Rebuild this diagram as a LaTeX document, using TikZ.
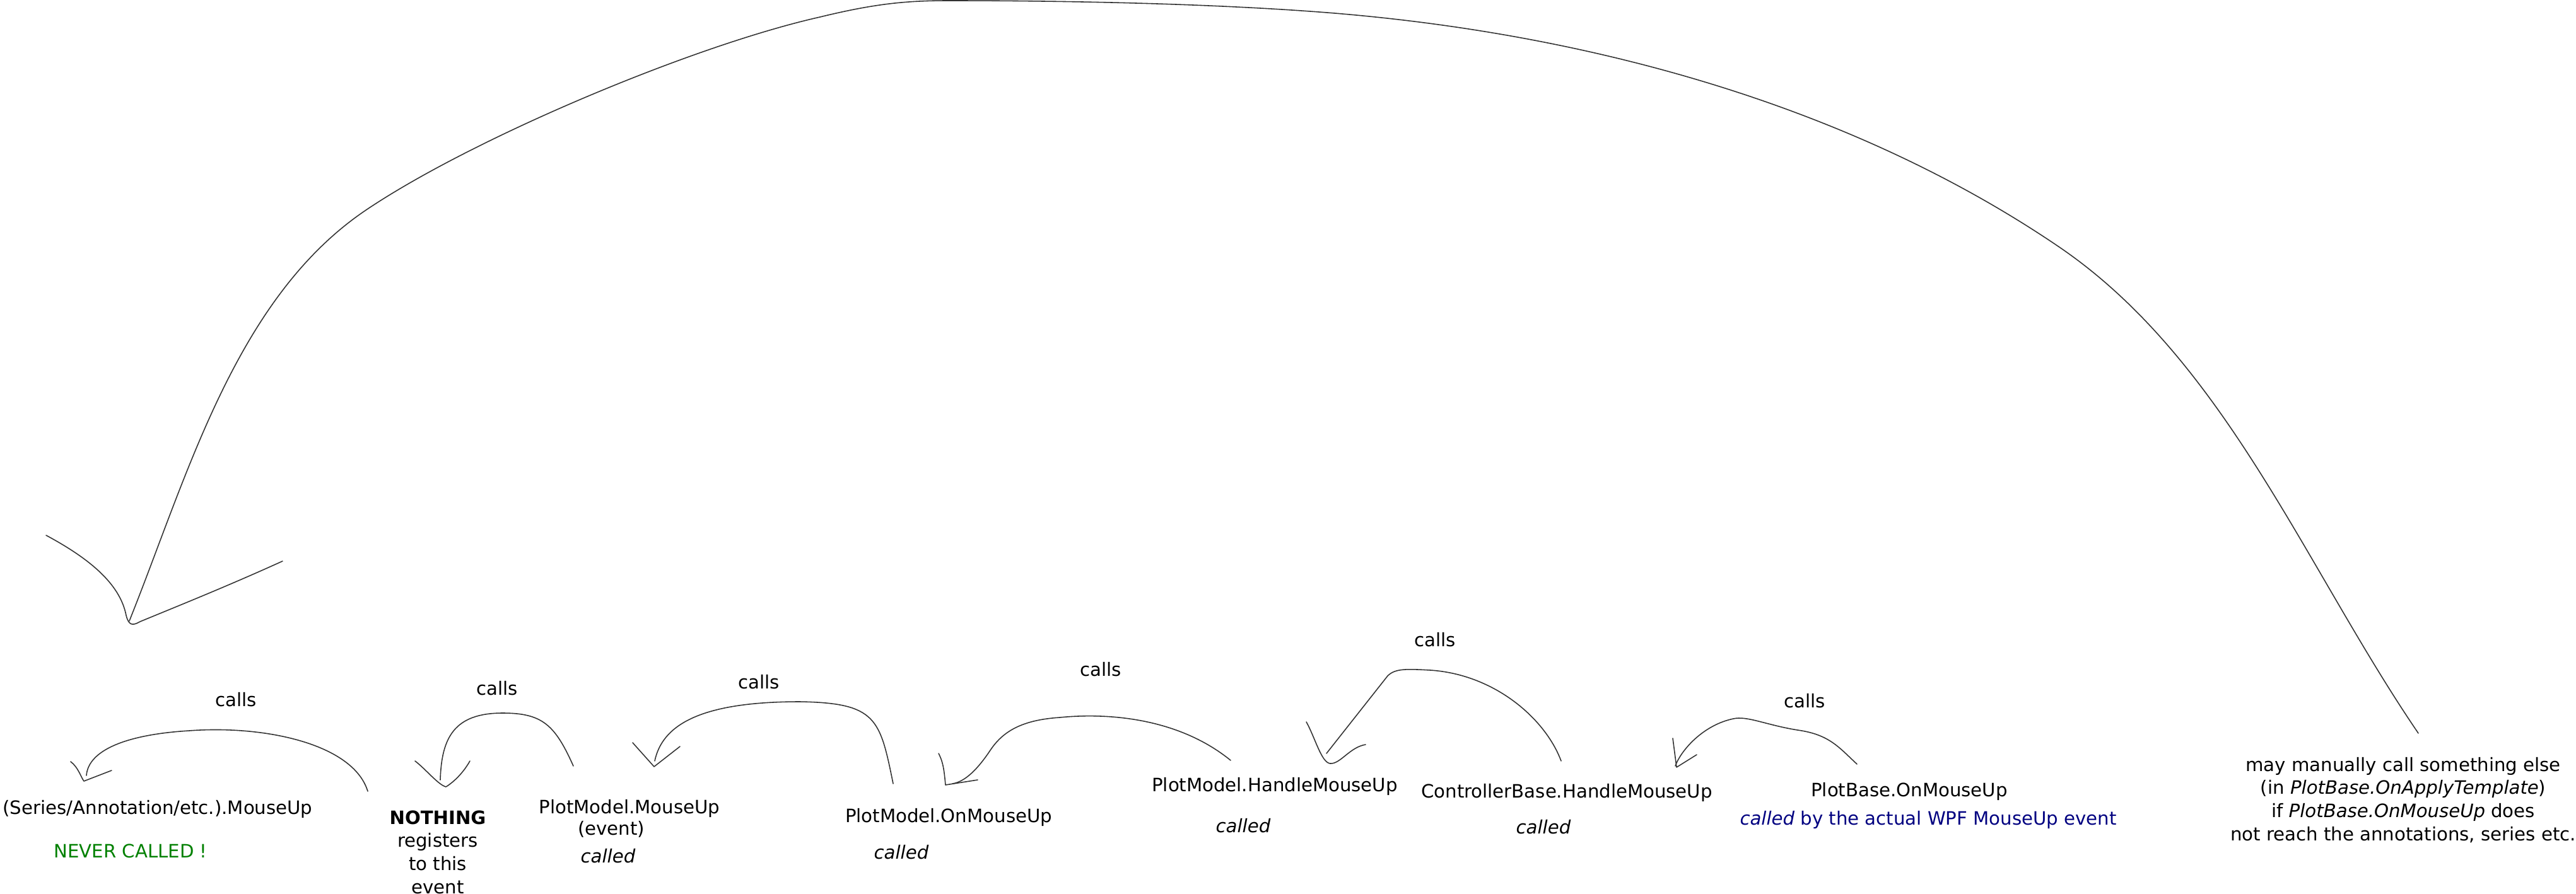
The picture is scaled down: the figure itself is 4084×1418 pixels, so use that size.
\documentclass[tikz,border=0pt]{standalone}
\usepackage{fontspec}
\setmainfont{DejaVu Sans}
\usepackage{xcolor}
\definecolor{nevergreen}{RGB}{0,128,0}
\definecolor{wpfblue}{RGB}{0,0,128}

\begin{document}
\begin{tikzpicture}[x=0.01cm, y=-0.01cm,
    every node/.style={font=\fontsize{8.3}{10.4}\selectfont, inner sep=0pt, anchor=base},
    stroke/.style={draw=black!80, line width=0.45pt, line cap=round, line join=round}]
        \useasboundingbox (0,0) rectangle (4084,1418);

        % Methods (left to right), multi-line nodes sit on their last line
        \node (series) at (250,1291) {(Series/Annotation/etc.).MouseUp};
        \node[text=nevergreen] (never) at (207,1360) {NEVER CALLED !};
        \node[align=center] (nothing) at (694,1417) {\textbf{NOTHING}\\registers\\to this\\event};
        \node (pmmouse) at (998,1290) {PlotModel.MouseUp};
        \node (pmevent) at (969,1324) {(event)};
        \node (pmcalled) at (964,1368) {\textit{called}};
        \node (onmouse) at (1504,1304) {PlotModel.OnMouseUp};
        \node (omcalled) at (1429,1362) {\textit{called}};
        \node (handle) at (2021,1255) {PlotModel.HandleMouseUp};
        \node (hcalled) at (1971,1320) {\textit{called}};
        \node (ctrl) at (2484,1265) {ControllerBase.HandleMouseUp};
        \node (ccalled) at (2447,1322) {\textit{called}};
        \node (plotbase) at (3027,1263) {PlotBase.OnMouseUp};
        \node[text=wpfblue] (wpf) at (3057,1308) {\textit{called} by the actual WPF MouseUp event};
        \node[align=center] (manual) at (3810,1333) {may manually call something else\\(in \textit{PlotBase.OnApplyTemplate})\\if \textit{PlotBase.OnMouseUp} does\\not reach the annotations, series etc.};

        % "calls" labels
        \node (calls1) at (374,1120) {calls};
        \node (calls2) at (788,1102) {calls};
        \node (calls3) at (1203,1092) {calls};
        \node (calls4) at (1745,1072) {calls};
        \node (calls5) at (2275,1025) {calls};
        \node (calls6) at (2861,1122) {calls};

        % Ends of the hand drawn arrows
        \coordinate (s1) at (583,1255);  \coordinate (t1) at (137,1230);
        \coordinate (s2) at (909,1215);  \coordinate (t2) at (698,1237);
        \coordinate (s3) at (1416,1243); \coordinate (t3) at (1038,1207);
        \coordinate (s4) at (1951,1206); \coordinate (t4) at (1510,1243);
        \coordinate (s5) at (2475,1207); \coordinate (t5) at (2103,1195);
        \coordinate (s6) at (2944,1212); \coordinate (t6) at (2656,1215);
        \coordinate (bigstart) at (3834,1163); \coordinate (bigtip) at (205,985);

        % NOTHING -> (Series/Annotation/etc.).MouseUp
        \draw[stroke] (s1) .. controls (560,1180) and (420,1150) .. (300,1159) .. controls (200,1165) and (140,1190) .. (t1);
        \draw[stroke] (112,1208) .. controls (124,1217) and (128,1232) .. (133,1239) -- (177,1222);

        % PlotModel.MouseUp -> NOTHING
        \draw[stroke] (s2) .. controls (880,1150) and (860,1131) .. (797,1131) .. controls (720,1131) and (700,1170) .. (t2);
        \draw[stroke] (658,1207) .. controls (675,1220) and (695,1245) .. (707,1248) .. controls (720,1240) and (735,1225) .. (745,1207);

        % PlotModel.OnMouseUp -> PlotModel.MouseUp
        \draw[stroke] (s3) .. controls (1395,1140) and (1390,1115) .. (1268,1113) .. controls (1110,1113) and (1050,1150) .. (t3);
        \draw[stroke] (1003,1178) -- (1037,1216) -- (1078,1184);

        % PlotModel.HandleMouseUp -> PlotModel.OnMouseUp
        \draw[stroke] (s4) .. controls (1870,1140) and (1760,1130) .. (1680,1138) .. controls (1620,1142) and (1590,1160) .. (1570,1190) .. controls (1550,1220) and (1530,1240) .. (t4);
        \draw[stroke] (1488,1195) .. controls (1496,1210) and (1497,1225) .. (1499,1245) -- (1550,1237);

        % ControllerBase.HandleMouseUp -> PlotModel.HandleMouseUp
        \draw[stroke] (s5) .. controls (2450,1140) and (2370,1070) .. (2268,1063) .. controls (2230,1061) and (2212,1060) .. (2200,1072) -- (t5);
        \draw[stroke] (2071,1145) .. controls (2085,1170) and (2095,1210) .. (2109,1211) .. controls (2125,1212) and (2140,1185) .. (2165,1181);

        % PlotBase.OnMouseUp -> ControllerBase.HandleMouseUp
        \draw[stroke] (s6) .. controls (2915,1185) and (2900,1165) .. (2850,1158) .. controls (2800,1150) and (2770,1135) .. (2748,1140) .. controls (2700,1150) and (2665,1190) .. (t6);
        \draw[stroke] (2652,1171) -- (2658,1217) -- (2690,1197);

        % manual call -> (Series/Annotation/etc.).MouseUp
        \draw[stroke] (bigstart) .. controls (3654,899) and (3527,569) .. (3262,390)
            .. controls (2927,163) and (2508,52) .. (2104,20)
            .. controls (1900,4) and (1650,1) .. (1505,1)
            .. controls (1440,1) and (1390,5) .. (1300,27)
            .. controls (1100,72) and (752,218) .. (582,332)
            .. controls (374,471) and (298,753) .. (bigtip);
        \draw[stroke] (73,849) .. controls (140,885) and (190,925) .. (200,976) .. controls (204,992) and (210,993) .. (222,986) .. controls (280,962) and (360,930) .. (448,890);
    \end{tikzpicture}
\end{document}
